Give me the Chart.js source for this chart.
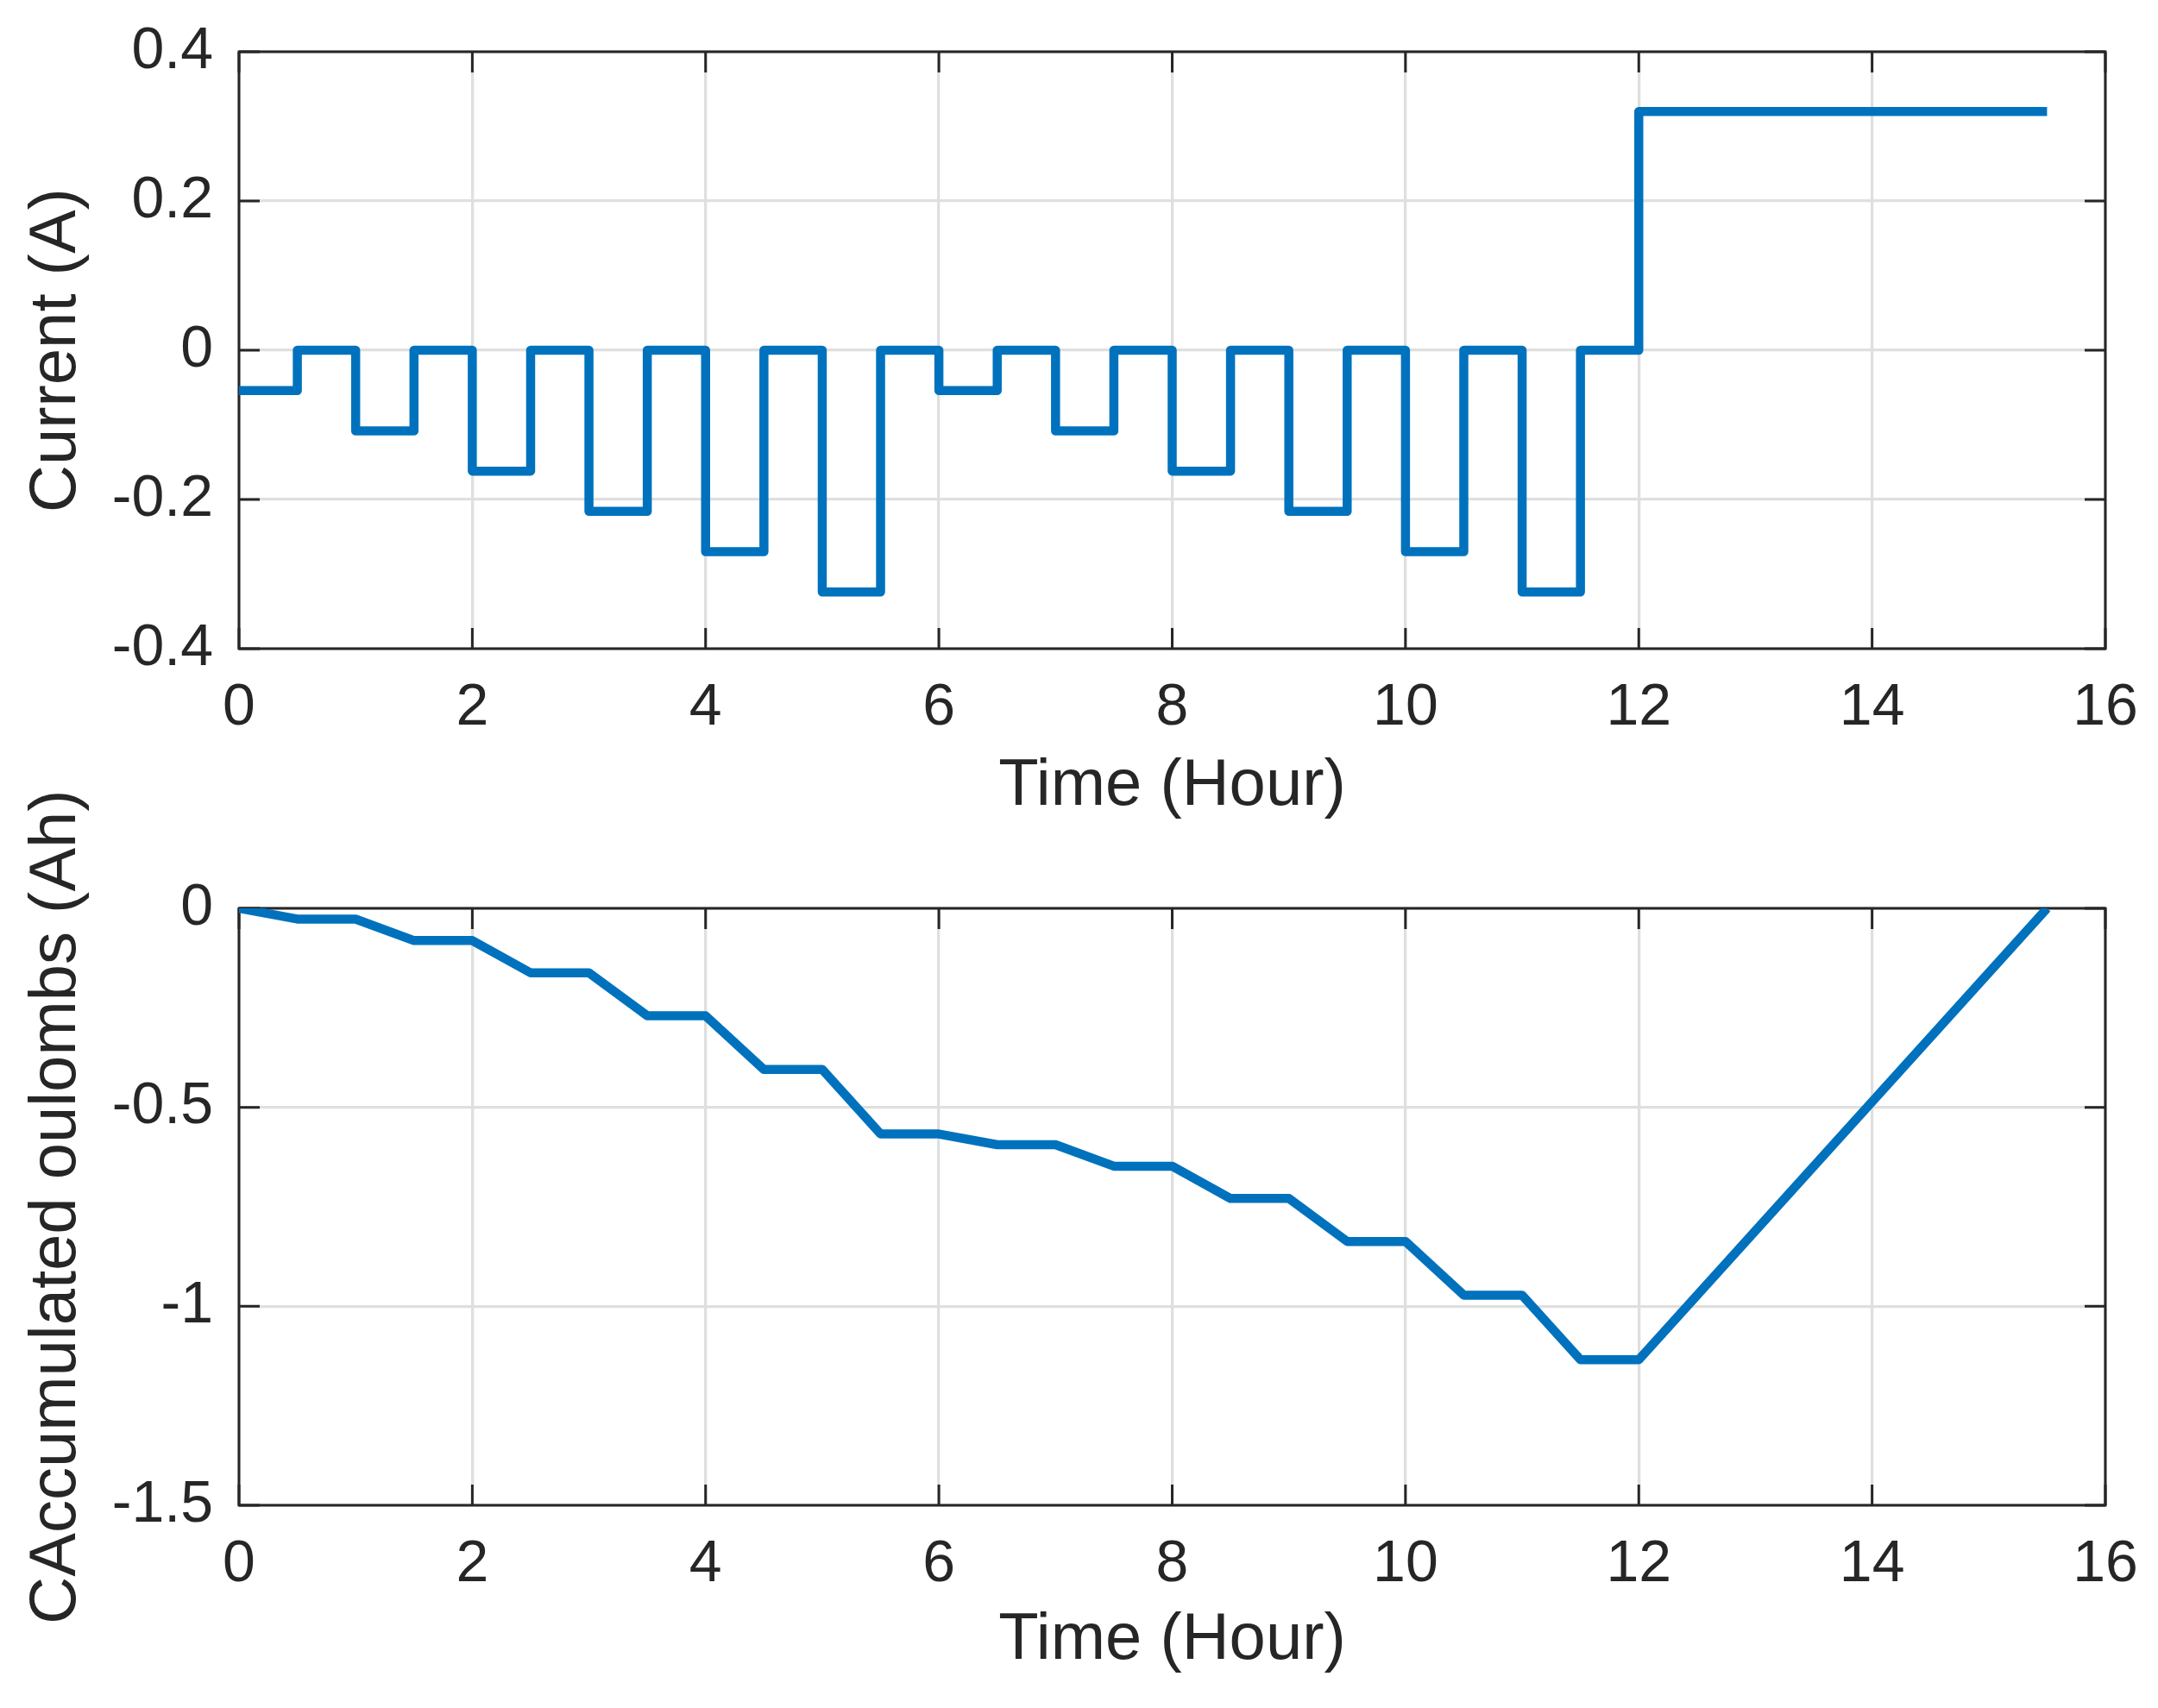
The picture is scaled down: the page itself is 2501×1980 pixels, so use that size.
<!DOCTYPE html>
<html>
<head>
<meta charset="utf-8">
<script src="https://cdn.jsdelivr.net/npm/chart.js@4.4.1/dist/chart.umd.min.js"></script>
<style>
  body { margin: 0; background: #fff; }
  .box { position: absolute; left: 0; width: 2501px; }
</style>
</head>
<body>
<div class="box" style="top:0;height:990px"><canvas id="currentChart"></canvas></div>
<!-- bottom canvas overlaps the top one (transparent) so the long y title fits -->
<div class="box" style="top:860px;height:1120px"><canvas id="coulombChart"></canvas></div>
<script>
// x values shared by both plots (hours)
const xTicks = [0, 2, 4, 6, 8, 10, 12, 14, 16];

// top plot: current profile (step pulses)
const currentTime = [0, 0.5, 0.5, 1, 1, 1.5, 1.5, 2, 2, 2.5, 2.5, 3, 3, 3.5, 3.5, 4, 4, 4.5, 4.5, 5, 5, 5.5, 5.5, 6,
  6, 6.5, 6.5, 7, 7, 7.5, 7.5, 8, 8, 8.5, 8.5, 9, 9, 9.5, 9.5, 10, 10, 10.5, 10.5, 11, 11, 11.5, 11.5, 12,
  12, 15.5];
const currentAmps = [-0.054, -0.054, 0, 0, -0.108, -0.108, 0, 0, -0.162, -0.162, 0, 0, -0.216, -0.216, 0, 0, -0.27, -0.27, 0, 0, -0.324, -0.324, 0, 0,
  -0.054, -0.054, 0, 0, -0.108, -0.108, 0, 0, -0.162, -0.162, 0, 0, -0.216, -0.216, 0, 0, -0.27, -0.27, 0, 0, -0.324, -0.324, 0, 0,
  0.32, 0.32];
const currentTicks = [-0.4, -0.2, 0, 0.2, 0.4];
const currentTickLabels = ["-0.4", "-0.2", "0", "0.2", "0.4"];

// bottom plot: accumulated coulombs
const ahTime = [0, 0.5, 1, 1.5, 2, 2.5, 3, 3.5, 4, 4.5, 5, 5.5, 6, 6.5, 7, 7.5, 8, 8.5, 9, 9.5, 10, 10.5, 11, 11.5, 12, 15.5];
const ahValues = [0, -0.027, -0.027, -0.081, -0.081, -0.162, -0.162, -0.27, -0.27, -0.405, -0.405, -0.567, -0.567,
  -0.594, -0.594, -0.648, -0.648, -0.729, -0.729, -0.837, -0.837, -0.972, -0.972, -1.134, -1.134, 0];
const ahTicks = [-1.5, -1, -0.5, 0];
const ahTickLabels = ["-1.5", "-1", "-0.5", "0"];

const TEXT = "#262626";
const FONT = "'Liberation Sans', Arial, Helvetica, sans-serif";

// MATLAB-ish box with inward ticks on all four sides
const boxPlugin = {
  id: "matlabBox",
  beforeDatasetsDraw(chart) {
    const { ctx, chartArea: a, scales } = chart;
    const len = 24;
    ctx.save();
    ctx.strokeStyle = TEXT;
    ctx.lineWidth = 3;
    ctx.beginPath();
    scales.x.ticks.forEach(t => {
      const px = scales.x.getPixelForValue(t.value);
      ctx.moveTo(px, a.bottom); ctx.lineTo(px, a.bottom - len);
      ctx.moveTo(px, a.top); ctx.lineTo(px, a.top + len);
    });
    scales.y.ticks.forEach(t => {
      const py = scales.y.getPixelForValue(t.value);
      ctx.moveTo(a.left, py); ctx.lineTo(a.left + len, py);
      ctx.moveTo(a.right, py); ctx.lineTo(a.right - len, py);
    });
    ctx.stroke();
    ctx.strokeRect(a.left, a.top, a.right - a.left, a.bottom - a.top);
    ctx.restore();
  }
};

function makeChart(id, xs, ys, yTicks, yLabels, yTitle, topPad, xHeight) {
  const pts = xs.map((x, i) => ({ x: x, y: ys[i] }));
  return new Chart(document.getElementById(id), {
    type: "line",
    data: {
      datasets: [{
        data: pts,
        borderColor: "#0072BD",
        borderWidth: 10.5,
        pointRadius: 0,
        tension: 0,
        fill: false,
        borderJoinStyle: "round"
      }]
    },
    options: {
      responsive: true,
      maintainAspectRatio: false,
      animation: false,
      events: [],
      layout: { padding: { top: topPad, right: 61, left: 0, bottom: 0 } },
      plugins: { legend: { display: false }, tooltip: { enabled: false } },
      scales: {
        x: {
          type: "linear",
          min: 0,
          max: 16,
          afterBuildTicks: s => { s.ticks = xTicks.map(v => ({ value: v })); },
          afterFit: s => { s.height = xHeight; s.paddingLeft = 0; s.paddingRight = 0; },
          grid: { color: "#dfdfdf", lineWidth: 3.3, drawTicks: false },
          border: { display: false },
          ticks: { color: TEXT, padding: 28, maxRotation: 0, font: { family: FONT, size: 68 },
            callback: v => String(v) },
          title: { display: true, text: "Time (Hour)", color: TEXT, padding: { top: 0, bottom: 32 },
            font: { family: FONT, size: 76 } }
        },
        y: {
          type: "linear",
          min: yTicks[0],
          max: yTicks[yTicks.length - 1],
          afterBuildTicks: s => { s.ticks = yTicks.map(v => ({ value: v })); },
          afterFit: s => { s.width = 277; s.paddingTop = 0; s.paddingBottom = 0; },
          grid: { color: "#dfdfdf", lineWidth: 3.3, drawTicks: false },
          border: { display: false },
          ticks: { color: TEXT, padding: 30, font: { family: FONT, size: 68 },
            callback: (v, i) => yLabels[i] },
          title: { display: true, text: yTitle, color: TEXT, padding: { top: 20, bottom: 0 },
            font: { family: FONT, size: 76 } }
        }
      }
    },
    plugins: [boxPlugin]
  });
}

makeChart("currentChart", currentTime, currentAmps, currentTicks, currentTickLabels, "Current (A)", 60, 238);
makeChart("coulombChart", ahTime, ahValues, ahTicks, ahTickLabels, "CAccumulated oulombs (Ah)", 193, 235);
</script>
</body>
</html>
